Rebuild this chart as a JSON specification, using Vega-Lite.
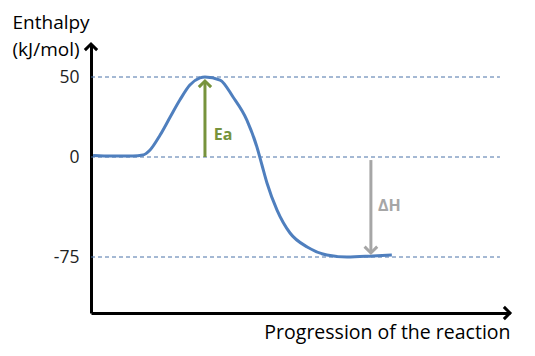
{
  "$schema": "https://vega.github.io/schema/vega-lite/v6.json",
  "width": 419,
  "height": 269,
  "autosize": {"type": "none"},
  "padding": {"left": 91, "top": 44, "right": 25, "bottom": 43},
  "config": {
    "view": {"stroke": null},
    "font": "Open Sans"
  },
  "datasets": {
    "curve": [
      {"x": 0.5, "y": 1}, {"x": 5, "y": 0.6}, {"x": 10, "y": 0.6}, {"x": 12.4, "y": 1.25},
      {"x": 14.1, "y": 4.4}, {"x": 16.5, "y": 13.75}, {"x": 18.9, "y": 25}, {"x": 21.2, "y": 35.6},
      {"x": 23.6, "y": 45}, {"x": 26.0, "y": 49.4}, {"x": 27.2, "y": 50}, {"x": 30.8, "y": 48.1},
      {"x": 33.9, "y": 37.5}, {"x": 37.2, "y": 23.1}, {"x": 39.6, "y": 6.25}, {"x": 40.8, "y": -6},
      {"x": 42.0, "y": -19.5}, {"x": 44.4, "y": -39.8},
      {"x": 47.5, "y": -57}, {"x": 51.6, "y": -67.5}, {"x": 56.3, "y": -73.5}, {"x": 61.1, "y": -75},
      {"x": 67.3, "y": -74.2}, {"x": 71.8, "y": -73.5}
    ],
    "grid": [
      {"y": 50, "x": 0, "x2": 97.6},
      {"y": 0, "x": 0, "x2": 97.6},
      {"y": -75, "x": 0, "x2": 97.6}
    ],
    "arrows": [
      {"name": "Ea", "x": 27.2, "y": 0, "y2": 47.5},
      {"name": "dH", "x": 66.8, "y": -2.3, "y2": -72}
    ],
    "labels": [
      {"name": "Ea", "text": "Ea", "x": 29.3, "y": 13.5},
      {"name": "dH", "text": "ΔH", "x": 68.5, "y": -37}
    ],
    "upheads": [
      {"name": "axis", "x": 0, "y": 70.625},
      {"name": "Ea", "x": 27.2, "y": 47.5}
    ],
    "downheads": [
      {"name": "dH", "x": 66.8, "y": -72}
    ],
    "rightheads": [
      {"name": "axis", "x": 100, "y": -117}
    ]
  },
  "layer": [
    {
      "data": {"name": "grid"},
      "mark": {"type": "rule", "color": "#4a72a8", "strokeWidth": 1, "strokeDash": [4, 3]},
      "encoding": {
        "x": {"field": "x", "type": "quantitative",
          "scale": {"domain": [0, 100], "nice": false, "zero": false},
          "axis": {"title": "Progression of the reaction", "titleAnchor": "end", "titleAlign": "right", "titleX": 419, "titleY": 25, "titleBaseline": "alphabetic", "titleFontSize": 19.5, "titleFontWeight": "normal", "titleColor": "#000000", "titleFont": "Open Sans", "labels": false, "ticks": false, "grid": false, "domainColor": "#000000", "domainWidth": 3}},
        "x2": {"field": "x2"},
        "y": {"field": "y", "type": "quantitative",
          "scale": {"type": "linear", "domain": [-117, -75, 0, 50, 70.625], "range": [269, 213, 113, 33, 0], "nice": false, "zero": false},
          "axis": {"title": ["Enthalpy", "(kJ/mol)"], "titleAngle": 0, "titleAlign": "left", "titleX": -79, "titleY": -16, "titleBaseline": "alphabetic", "titleLineHeight": 27, "titleFontSize": 19, "titleFontWeight": "normal", "titleColor": "#000000", "titleFont": "Open Sans", "values": [-75, 0, 50], "labelExpr": "datum.value < 0 ? '-' + abs(datum.value) : datum.label", "ticks": false, "grid": false, "labelPadding": 12, "labelFontSize": 17.5, "labelColor": "#222222", "labelFont": "Open Sans", "domainColor": "#000000", "domainWidth": 3}}
      }
    },
    {
      "data": {"name": "curve"},
      "mark": {"type": "line", "color": "#4f7fbe", "strokeWidth": 3, "interpolate": "monotone"},
      "encoding": {
        "x": {"field": "x", "type": "quantitative"},
        "y": {"field": "y", "type": "quantitative"}
      }
    },
    {
      "data": {"name": "arrows"},
      "mark": {"type": "rule", "strokeWidth": 3},
      "encoding": {
        "x": {"field": "x", "type": "quantitative"},
        "y": {"field": "y", "type": "quantitative"},
        "y2": {"field": "y2"},
        "color": {"field": "name", "type": "nominal", "scale": {"domain": ["Ea", "dH", "axis"], "range": ["#77933c", "#a6a6a6", "#000000"]}, "legend": null}
      }
    },
    {
      "data": {"name": "labels"},
      "mark": {"type": "text", "align": "left", "baseline": "middle", "fontSize": 16, "fontWeight": "bold", "font": "Open Sans"},
      "encoding": {
        "x": {"field": "x", "type": "quantitative"},
        "y": {"field": "y", "type": "quantitative"},
        "text": {"field": "text"},
        "color": {"field": "name", "type": "nominal", "legend": null}
      }
    },
    {
      "data": {"name": "upheads"},
      "mark": {"type": "point", "shape": "M-1,1L0,0L1,1", "filled": false, "size": 150, "strokeWidth": 3, "opacity": 1, "strokeJoin": "miter"},
      "encoding": {
        "x": {"field": "x", "type": "quantitative"},
        "y": {"field": "y", "type": "quantitative"},
        "color": {"field": "name", "type": "nominal", "legend": null}
      }
    },
    {
      "data": {"name": "downheads"},
      "mark": {"type": "point", "shape": "M-1,-1L0,0L1,-1", "filled": false, "size": 160, "strokeWidth": 3, "opacity": 1, "strokeJoin": "miter"},
      "encoding": {
        "x": {"field": "x", "type": "quantitative"},
        "y": {"field": "y", "type": "quantitative"},
        "color": {"field": "name", "type": "nominal", "legend": null}
      }
    },
    {
      "data": {"name": "rightheads"},
      "mark": {"type": "point", "shape": "M-1,-1L0,0L-1,1", "filled": false, "size": 150, "strokeWidth": 3, "opacity": 1, "strokeJoin": "miter"},
      "encoding": {
        "x": {"field": "x", "type": "quantitative"},
        "y": {"field": "y", "type": "quantitative"},
        "color": {"field": "name", "type": "nominal", "legend": null}
      }
    }
  ]
}
